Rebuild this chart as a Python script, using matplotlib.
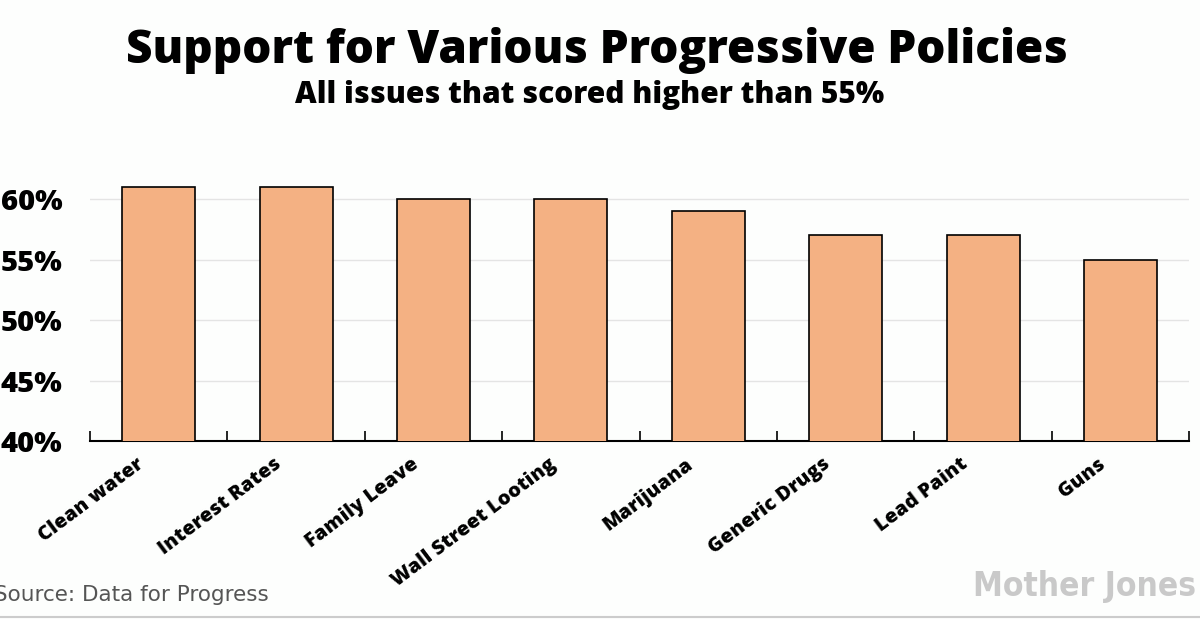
import matplotlib
matplotlib.use('Agg')
import matplotlib.pyplot as plt
from matplotlib.lines import Line2D

# data
issues = ['Clean water', 'Interest Rates', 'Family Leave', 'Wall Street Looting',
          'Marijuana', 'Generic Drugs', 'Lead Paint', 'Guns']
support = [61, 61, 60, 60, 59, 57, 57, 55]
yticks = [40, 45, 50, 55, 60]
ytick_labels = ['40%', '45%', '50%', '55%', '60%']

title = 'Support for Various Progressive Policies'
subtitle = 'All issues that scored higher than 55%'
source = 'Source: Data for Progress'

plt.rcParams['font.family'] = ['Open Sans', 'DejaVu Sans']

fig = plt.figure(figsize=(12, 6.19), dpi=100, facecolor='#fdfefd')
ax = fig.add_axes([0.075, 0.2876, 0.916, 0.4297])
ax.set_facecolor('#fdfefd')

x = range(len(issues))
ax.bar(x, support, width=0.53, color='#f4b183', edgecolor='black', linewidth=1.2, zorder=3)

ax.set_ylim(40, 62)
ax.set_xlim(-0.5, len(issues) - 0.5)
ax.set_yticks(yticks)
ax.set_yticklabels(ytick_labels, fontsize=21, fontweight='heavy')
ax.tick_params(axis='y', length=0, pad=20)
ax.yaxis.grid(True, color='#e4e4e4', linewidth=1, zorder=0)

# category boundary ticks, pointing inward
ax.set_xticks([i - 0.5 for i in range(len(issues) + 1)])
ax.set_xticklabels([])
ax.tick_params(axis='x', direction='in', length=7, width=1.2, color='black')
for i, name in enumerate(issues):
    ax.text(i - 0.17, 38.9, name, rotation=37, rotation_mode='anchor',
            ha='right', va='top', fontsize=14.5, fontweight='heavy')

for s in ['left', 'right', 'top']:
    ax.spines[s].set_visible(False)
ax.spines['bottom'].set_linewidth(1.5)

fig.text(0.497, 0.918, title, ha='center', va='center', fontsize=33, fontweight='heavy')
fig.text(0.491, 0.846, subtitle, ha='center', va='center', fontsize=21.5, fontweight='heavy')
fig.text(-0.005, 0.038, source, ha='left', va='center', fontsize=15.5, color='#555555',
         family='DejaVu Sans')
fig.text(0.997, 0.053, 'Mother Jones', ha='right', va='center', fontsize=24,
         color='#c9c9c9', fontweight='bold', family='DejaVu Sans', fontstretch='condensed')
fig.add_artist(Line2D([0, 1], [0.003, 0.003], color='#cccccc', linewidth=1.5))

fig.savefig('out.png', dpi=100, facecolor=fig.get_facecolor())
